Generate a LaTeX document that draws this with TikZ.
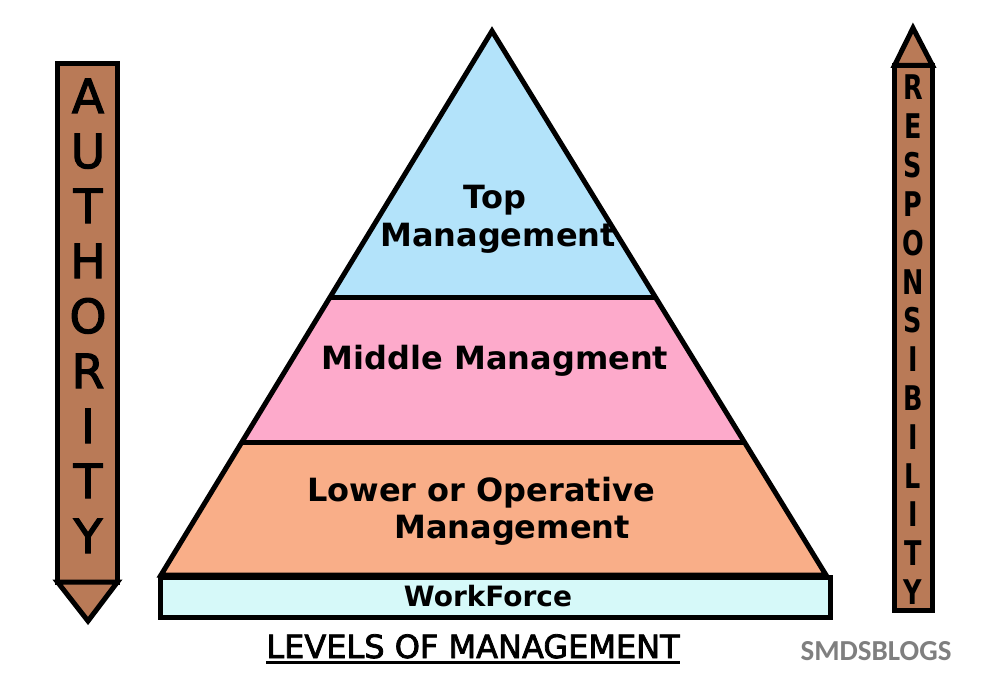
\documentclass[tikz,border=0pt]{standalone}
\usepackage{fontspec}
\setmainfont{DejaVu Sans}
\newfontfamily\carlito{Carlito}
\newfontfamily\heavyfont[FakeBold=2.5]{DejaVu Sans}
\usetikzlibrary{calc}
\definecolor{brownfill}{HTML}{B97A57}
\definecolor{topblue}{HTML}{B3E3FA}
\definecolor{midpink}{HTML}{FDAACB}
\definecolor{lowsalmon}{HTML}{F9AE88}
\definecolor{workcyan}{HTML}{D6F9F9}
\definecolor{stampgray}{HTML}{7F7F7F}
\tikzset{
  outline/.style={line width=5bp, line join=miter},
  bandtext/.style={font=\bfseries\fontsize{32bp}{37bp}\selectfont, anchor=base, inner sep=0},
  lefttext/.style={font=\heavyfont\fontsize{47bp}{50bp}\selectfont, anchor=base, inner sep=0},
  righttext/.style={font=\bfseries\fontsize{34bp}{38bp}\selectfont, anchor=base, inner sep=0, xscale=0.75},
}
\begin{document}
\begin{tikzpicture}[x=1bp,y=-1bp]
\useasboundingbox (0,0) rectangle (994,676);
% pyramid corners
\coordinate (apex) at (492,31);
\coordinate (bl) at (161,575);
\coordinate (br) at (826,575);
\coordinate (l1) at ($(apex)!0.489!(bl)$);
\coordinate (r1) at ($(apex)!0.489!(br)$);
\coordinate (l2) at ($(apex)!0.757!(bl)$);
\coordinate (r2) at ($(apex)!0.757!(br)$);
% bands
\fill[topblue] (apex) -- (l1) -- (r1) -- cycle;
\fill[midpink] (l1) -- (l2) -- (r2) -- (r1) -- cycle;
\fill[lowsalmon] (l2) -- (bl) -- (br) -- (r2) -- cycle;
\draw[outline] (apex) -- (bl) -- (br) -- cycle;
\draw[outline] (l1) -- (r1);
\draw[outline] (l2) -- (r2);
% workforce bar
\node[draw, outline, fill=workcyan, minimum width=670bp, minimum height=40bp, inner sep=0, anchor=north west] (wf) at (158,575) {};
\node[font=\bfseries\fontsize{28bp}{32bp}\selectfont, anchor=base, inner sep=0] (wft) at (488,606) {WorkForce};
% band texts
\node[bandtext] (top1) at (495,208) {Top};
\node[bandtext] (top2) at (498,246) {Management};
\node[bandtext] (mid) at (495,369) {Middle Managment};
\node[bandtext] (low1) at (481,501) {Lower or Operative};
\node[bandtext] (low2) at (512,538) {Management};
% title
\node[font=\heavyfont\fontsize{32bp}{36bp}\selectfont, anchor=base, inner sep=0] (title) at (473,658) {LEVELS OF MANAGEMENT};
\draw[line width=3bp] ($(title.base west)+(0,4)$) -- ($(title.base east)+(0,4)$);
\node[font=\carlito\bfseries\fontsize{29bp}{32bp}\selectfont, text=stampgray, anchor=base, inner sep=0] (stamp) at (876,660) {SMDSBLOGS};
% left arrow: authority
\draw[outline, fill=brownfill] (57.5,63.5) rectangle (117.5,582);
\draw[outline, fill=brownfill] (57.5,582) -- (88,621) -- (117.5,582) -- cycle;
\foreach \ch [count=\i from 0] in {A,U,T,H,O,R,I,T,Y}
  \node[lefttext] (auth\i) at (88,{113+55*\i}) {\ch};
% right arrow: responsibility
\draw[outline, fill=brownfill] (894.5,65.5) rectangle (932.5,610.5);
\draw[outline, fill=brownfill] (894.5,65.5) -- (913,28) -- (932.5,65.5) -- cycle;
\foreach \ch [count=\i from 0] in {R,E,S,P,O,N,S,I,B,I,L,I,T,Y}
  \node[righttext] (resp\i) at (913,{100+38.8*\i}) {\ch};
\end{tikzpicture}
\end{document}
